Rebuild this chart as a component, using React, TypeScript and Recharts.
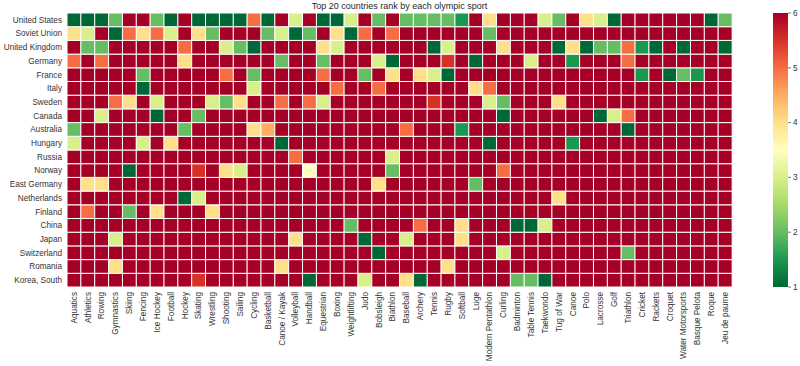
import React from 'react';
import { BarChart, Bar, XAxis, YAxis, Cell } from 'recharts';

const sports = [
  'Aquatics', 'Athletics', 'Rowing', 'Gymnastics', 'Skiing', 'Fencing', 'Ice Hockey', 'Football',
  'Hockey', 'Skating', 'Wrestling', 'Shooting', 'Sailing', 'Cycling', 'Basketball', 'Canoe / Kayak',
  'Volleyball', 'Handball', 'Equestrian', 'Boxing', 'Weightlifting', 'Judo', 'Bobsleigh', 'Biathlon',
  'Baseball', 'Archery', 'Tennis', 'Rugby', 'Softball', 'Luge', 'Modern Pentathlon', 'Curling',
  'Badminton', 'Table Tennis', 'Taekwondo', 'Tug of War', 'Canoe', 'Polo', 'Lacrosse', 'Golf',
  'Triathlon', 'Cricket', 'Rackets', 'Croquet', 'Water Motorsports', 'Basque Pelota', 'Roque', 'Jeu de paume',
];

const countries = [
  'United States', 'Soviet Union', 'United Kingdom', 'Germany', 'France', 'Italy', 'Sweden', 'Canada',
  'Australia', 'Hungary', 'Russia', 'Norway', 'East Germany', 'Netherlands', 'Finland', 'China',
  'Japan', 'Switzerland', 'Romania', 'Korea, South',
];

// rank per sport, same order as sports (6 = outside the top 5)
const unitedStates = [1, 1, 1, 2, 6, 6, 2, 1, 6, 1, 1, 1, 1, 5, 1, 6, 3, 6, 1, 1, 3, 6, 2, 6, 2, 2, 2, 2, 1.5, 6, 4, 6, 6, 6, 3, 2, 6, 4, 3, 1, 6, 6, 6, 6, 6, 6, 1, 2];
const sovietUnion = [4, 3, 6, 1, 5, 4, 5, 3, 6, 4, 2, 6, 6, 6, 2, 3, 1, 2, 6, 4, 1, 5, 6, 5, 6, 6, 6, 6, 6, 6, 2, 6, 6, 6, 6, 6, 6, 6, 6, 6, 6, 6, 6, 6, 6, 6, 6, 6];
const unitedKingdom = [6, 2, 2, 6, 6, 6, 6, 6, 5, 6, 6, 3, 2, 1, 6, 6, 6, 6, 4, 3, 6, 6, 6, 6, 6, 6, 1, 3, 6, 6, 6, 4, 6, 6, 6, 1, 4, 1, 2, 2, 5, 1.5, 1, 6, 1, 6, 6, 1];
const germany = [5, 6, 5, 6, 6, 6, 6, 6, 4, 6, 6, 6, 6, 6, 6, 2, 6, 6, 2, 6, 6, 6, 3, 1, 6, 6, 6, 5.5, 6, 1, 6, 6, 6, 3, 6, 6, 1.5, 6, 6, 6, 5, 6, 6, 6, 6, 6, 6, 6];
const france = [6, 6, 6, 6, 6, 2, 6, 6, 6, 6, 6, 5, 6, 2, 6, 6, 6, 6, 5, 6, 6, 2, 6, 4, 6, 4, 3, 1, 6, 6, 6, 6, 6, 6, 6, 6, 6, 6, 6, 6, 6, 1.5, 6, 1, 2, 1.5, 6, 6];
const italy = [6, 6, 6, 6, 6, 1, 6, 6, 6, 6, 6, 6, 6, 3, 6, 6, 6, 6, 6, 5, 6, 6, 5, 6, 6, 6, 6, 6, 6, 4, 5, 6, 6, 6, 6, 6, 6, 6, 6, 6, 6, 6, 6, 6, 6, 6, 6, 6];
const sweden = [6, 6, 6, 5, 4, 6, 3, 6, 6, 6, 3, 2, 4, 6, 6, 5, 6, 5, 3, 6, 6, 6, 6, 6, 6, 6, 5.5, 6, 6, 6, 3, 2, 6, 6, 6, 4, 6, 6, 6, 6, 6, 6, 6, 6, 6, 6, 6, 6];
const canada = [6, 6, 3, 6, 6, 6, 1, 6, 6, 2, 6, 6, 6, 6, 6, 6, 6, 6, 6, 6, 6, 6, 6, 6, 6, 6, 6, 6, 6, 6, 6, 1, 6, 6, 6, 6, 6, 6, 1, 3, 5, 6, 6, 6, 6, 6, 6, 6];
const australia = [2, 6, 6, 6, 6, 6, 6, 6, 2, 6, 6, 6, 6, 4, 4.5, 6, 6, 6, 6, 6, 6, 6, 6, 6, 5, 6, 6, 6, 1.5, 6, 6, 6, 6, 6, 6, 6, 6, 6, 6, 6, 1, 6, 6, 6, 6, 6, 6, 6];
const hungary = [3, 6, 6, 6, 6, 3, 6, 4, 6, 6, 6, 6, 6, 6, 6, 1, 6, 6, 6, 6, 6, 6, 6, 6, 6, 6, 6, 6, 6, 6, 1, 6, 6, 6, 6, 6, 1.5, 6, 6, 6, 6, 6, 6, 6, 6, 6, 6, 6];
const russia = [6, 6, 6, 6, 6, 6, 6, 6, 6, 6, 6, 6, 6, 6, 6, 6, 5, 6, 6, 6, 6, 6, 6, 3, 6, 6, 6, 6, 6, 6, 6, 6, 6, 6, 6, 6, 6, 6, 6, 6, 6, 6, 6, 6, 6, 6, 6, 6];
const norway = [6, 6, 6, 6, 1, 6, 6, 6, 6, 5.5, 6, 4, 3, 6, 6, 6, 6, 3.5, 6, 6, 6, 6, 6, 2, 6, 6, 6, 6, 6, 6, 6, 5, 6, 6, 6, 6, 6, 6, 6, 6, 6, 6, 6, 6, 6, 6, 6, 6];
const eastGermany = [6, 4, 4, 6, 6, 6, 6, 6, 6, 6, 6, 6, 6, 6, 6, 6, 6, 6, 6, 6, 6, 6, 4, 6, 6, 6, 6, 6, 6, 2, 6, 6, 6, 6, 6, 6, 6, 6, 6, 6, 6, 6, 6, 6, 6, 6, 6, 6];
const netherlands = [6, 6, 6, 6, 6, 6, 6, 6, 1, 3, 6, 6, 6, 6, 6, 6, 6, 6, 6, 6, 6, 6, 6, 6, 6, 6, 6, 6, 6, 6, 6, 6, 6, 6, 6, 4, 6, 6, 6, 6, 6, 6, 6, 6, 6, 6, 6, 6];
const finland = [6, 5, 6, 6, 2, 6, 4, 6, 6, 6, 4, 6, 6, 6, 6, 6, 6, 6, 6, 6, 6, 6, 6, 6, 6, 6, 6, 6, 6, 6, 6, 6, 6, 6, 6, 6, 6, 6, 6, 6, 6, 6, 6, 6, 6, 6, 6, 6];
const china = [6, 6, 6, 6, 6, 6, 6, 6, 6, 6, 6, 6, 6, 6, 6, 6, 6, 6, 6, 6, 2, 6, 6, 6, 6, 5, 6, 6, 4, 6, 6, 6, 1, 1, 3, 6, 6, 6, 6, 6, 6, 6, 6, 6, 6, 6, 6, 6];
const japan = [6, 6, 6, 3, 6, 6, 6, 6, 6, 6, 6, 6, 6, 6, 6, 6, 4, 6, 6, 6, 6, 1, 6, 6, 3, 6, 6, 6, 4, 6, 6, 6, 6, 6, 6, 6, 6, 6, 6, 6, 6, 6, 6, 6, 6, 6, 6, 6];
const switzerland = [6, 6, 6, 6, 6, 6, 6, 6, 6, 6, 6, 6, 6, 6, 6, 6, 6, 6, 6, 6, 6, 6, 1, 6, 6, 6, 6, 6, 6, 6, 6, 3, 6, 6, 6, 6, 6, 6, 6, 6, 2, 6, 6, 6, 6, 6, 6, 6];
const romania = [6, 6, 6, 4, 6, 6, 6, 6, 6, 6, 6, 6, 6, 6, 6, 4, 6, 6, 6, 6, 6, 6, 6, 6, 6, 6, 6, 4, 6, 6, 6, 6, 6, 6, 6, 6, 6, 6, 6, 6, 6, 6, 6, 6, 6, 6, 6, 6];
const koreaSouth = [6, 6, 6, 6, 6, 6, 6, 6, 6, 5.5, 6, 6, 6, 6, 6, 6, 6, 1, 6, 6, 6, 3, 6, 6, 4, 1, 6, 6, 6, 6, 6, 6, 2, 2, 1, 6, 6, 6, 6, 6, 6, 6, 6, 6, 6, 6, 6, 6];

const ranks = [
  unitedStates, sovietUnion, unitedKingdom, germany, france, italy, sweden, canada,
  australia, hungary, russia, norway, eastGermany, netherlands, finland, china,
  japan, switzerland, romania, koreaSouth,
];

const colorTicks = [1, 2, 3, 4, 5, 6];

// RdYlGn, red end first (value 6) to green end (value 1)
const palette = [
  '#a50026', '#d73027', '#f46d43', '#fdae61', '#fee08b', '#ffffbf',
  '#d9ef8b', '#a6d96a', '#66bd63', '#1a9850', '#006837',
];

const hex = (c: string) => [1, 3, 5].map((k) => parseInt(c.slice(k, k + 2), 16));

const rankColor = (v: number) => {
  const p = Math.min(10, Math.max(0, (6 - v) * 2));
  const lo = Math.floor(p);
  const hi = Math.min(10, lo + 1);
  const f = p - lo;
  const a = hex(palette[lo]);
  const b = hex(palette[hi]);
  const rgb = a.map((x, k) => Math.round(x + (b[k] - x) * f));
  return `rgb(${rgb[0]},${rgb[1]},${rgb[2]})`;
};

const tableData = sports.map((sport) => {
  const row: Record<string, any> = { sport };
  countries.forEach((_, j) => {
    row['c' + j] = 1;
  });
  return row;
});

const yTicks = countries.map((_, k) => k + 0.5);

const FONT = '"Liberation Sans", Arial, sans-serif';

const SportTick = ({ x, y, payload }: any) => (
  <text
    x={x}
    y={y}
    transform={`rotate(-90 ${x} ${y})`}
    textAnchor="end"
    dy="0.35em"
    fontSize={8.2}
    fontFamily={FONT}
    fill="#333"
  >
    {payload.value}
  </text>
);

// plain text, no wrapping of long country names
const CountryTick = ({ y, payload }: any) => (
  <text x={62} y={y} textAnchor="end" dy="0.35em" fontSize={8.2} fontFamily={FONT} fill="#333">
    {countries[countries.length - 1 - Math.floor(payload.value)]}
  </text>
);

const PLOT_TOP = 13;
const PLOT_BOTTOM = 287;

const ColorBar = () => {
  const x = 773;
  const w = 15;
  const h = PLOT_BOTTOM - PLOT_TOP;
  return (
    <svg width={800} height={366} style={{ position: 'absolute', left: 0, top: 0, pointerEvents: 'none' }}>
      <defs>
        <linearGradient id="rankGrad" x1="0" y1="0" x2="0" y2="1">
          {palette.map((c, k) => (
            <stop key={k} offset={`${k * 10}%`} stopColor={c} />
          ))}
        </linearGradient>
      </defs>
      <rect x={x} y={PLOT_TOP} width={w} height={h} fill="url(#rankGrad)" />
      {colorTicks.map((t) => {
        const ty = PLOT_TOP + ((6 - t) / 5) * h;
        return (
          <g key={t}>
            <line x1={x + w} x2={x + w + 3} y1={ty} y2={ty} stroke="#555" strokeWidth={0.8} />
            <text x={x + w + 5} y={ty} dy="0.35em" fontSize={8.2} fontFamily={FONT} fill="#333">
              {t}
            </text>
          </g>
        );
      })}
    </svg>
  );
};

export default function App() {
  const order = countries.map((_, j) => countries.length - 1 - j);
  return (
    <div style={{ position: 'absolute', left: 0, top: 0, width: 800, height: 366, background: '#fff' }}>
      <BarChart
        width={800}
        height={366}
        data={tableData}
        margin={{ top: PLOT_TOP, right: 68, bottom: 0, left: 0 }}
        barCategoryGap={0}
        barGap={0}
      >
        <XAxis
          dataKey="sport"
          interval={0}
          height={366 - PLOT_BOTTOM}
          axisLine={false}
          tickLine={false}
          tickSize={3}
          tickMargin={2}
          tick={<SportTick />}
        />
        <YAxis
          type="number"
          domain={[0, countries.length]}
          ticks={yTicks}
          interval={0}
          width={67}
          axisLine={false}
          tickLine={false}
          tick={<CountryTick />}
        />
        {order.map((j) => (
          <Bar
            key={j}
            dataKey={'c' + j}
            stackId="grid"
            isAnimationActive={false}
            stroke="#fff"
            strokeWidth={1}
          >
            {sports.map((s, i) => (
              <Cell key={s} fill={rankColor(ranks[j][i])} />
            ))}
          </Bar>
        ))}
      </BarChart>
      <div
        style={{
          position: 'absolute',
          left: 67,
          width: 665,
          top: 0,
          textAlign: 'center',
          fontFamily: FONT,
          fontSize: 9,
          color: '#262626',
          lineHeight: '12px',
        }}
      >
        Top 20 countries rank by each olympic sport
      </div>
      <ColorBar />
    </div>
  );
}
